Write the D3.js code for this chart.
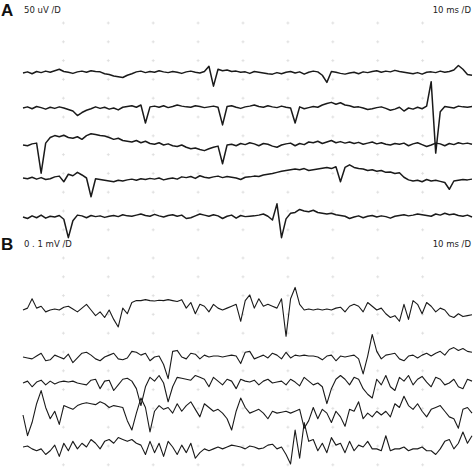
<!DOCTYPE html>
<html><head><meta charset="utf-8">
<script src="https://cdn.jsdelivr.net/npm/d3@7"></script>
<style>body{margin:0;background:#fff}</style></head>
<body><svg id="c" width="474" height="470"></svg>
<script>
// Panel A traces (uV), 1 sample per ms, 100 ms per sweep
const A1=[0,3,-2,4,1,5,2,6,10,4,2,-1,3,5,2,6,4,3,-2,-4,-8,-10,-12,-6,-2,3,5,1,4,2,6,3,1,4,2,-1,3,5,2,0,4,18,-35,10,6,8,4,5,2,3,-1,4,2,0,-2,-3,1,-2,2,4,0,3,-3,2,5,3,-6,-25,4,2,-1,-3,0,2,-2,3,1,4,6,2,5,3,7,4,2,0,-2,1,-3,2,3,1,5,2,4,8,20,10,-4,-6];
const A2=[0,3,-2,4,1,-3,2,-1,3,0,-4,-8,-20,-12,-6,-2,3,-1,2,-3,0,-5,2,4,6,2,8,-40,3,5,2,6,1,4,8,5,3,2,6,4,1,3,5,2,-45,4,6,2,-1,3,5,8,4,2,6,3,1,5,2,0,-40,3,-2,1,4,2,8,12,15,10,14,8,6,2,3,0,-4,-2,1,3,-1,-6,-3,2,-8,0,-3,2,-2,5,70,-120,-10,4,2,0,5,3,2,4];
const A3=[0,-2,3,5,-75,5,20,25,22,26,20,18,22,15,25,30,28,25,24,20,15,18,12,10,8,12,6,10,4,2,6,0,3,-2,-4,0,-6,-10,-8,-12,-15,-10,-6,-3,-50,0,2,-2,4,1,6,3,-2,4,2,-3,-6,0,3,5,-2,4,1,8,6,10,4,8,12,6,9,5,8,4,7,2,5,8,3,6,2,0,4,2,5,-2,3,6,1,-4,0,5,3,-2,4,1,6,3,5,2];
const A4=[0,-2,2,-3,1,-4,-2,3,5,-10,10,6,15,8,0,-50,-2,-4,-6,-8,-10,-6,-8,-5,-3,-6,-2,-4,-1,-3,0,-5,-2,0,-3,3,1,4,-1,6,2,0,3,5,1,4,2,0,-4,2,3,5,4,8,10,12,15,18,20,22,24,22,25,20,22,24,26,28,25,30,-10,28,35,28,25,24,20,22,18,20,15,16,12,14,2,-5,-8,-6,-10,-4,-8,-6,-9,-12,-30,-8,-6,-4,-5,-3];
const A5=[0,-4,3,-2,5,-3,2,0,4,-6,-55,-10,5,3,-2,4,1,3,-1,2,4,1,6,3,2,5,8,4,2,7,3,0,4,6,2,5,-4,-2,3,8,5,2,6,3,-4,2,5,-3,4,1,2,3,5,8,2,-8,35,-55,-5,10,12,20,16,14,18,12,10,8,10,6,4,2,-4,0,3,-2,2,4,0,3,1,-3,2,4,6,3,5,8,6,4,2,8,5,10,6,8,4,2,5,0];
// Panel B traces (uV)
const B1=[0,10,60,10,20,-10,0,5,0,15,20,5,-10,10,30,0,-30,-10,-40,0,-50,-90,10,-20,40,50,50,55,50,48,52,50,55,50,45,55,10,40,-20,30,20,-10,30,10,0,10,20,30,-60,50,80,10,60,20,30,20,10,60,-140,60,120,30,0,5,0,5,0,5,0,10,15,-10,20,30,20,-10,40,20,0,10,-20,-40,-30,-60,30,-50,50,30,-20,40,20,-10,10,0,-30,-40,-20,-35,-30,-25];
const B2=[0,-5,-10,5,20,-20,-15,10,0,-10,15,-30,-5,20,25,10,-10,-20,0,10,20,-10,-15,-5,30,25,10,20,-20,0,5,-40,-115,30,35,0,-10,20,15,-10,10,0,5,5,0,5,10,5,-35,25,30,-10,0,10,-5,20,10,-10,25,-5,10,5,10,5,5,0,-15,5,10,-20,5,0,5,10,-10,-90,5,120,30,-10,10,15,20,-10,-20,5,10,-5,10,20,5,20,30,10,40,50,35,45,30,25];
const B3=[0,10,-20,5,15,-10,10,-5,5,10,5,10,0,-5,-10,15,20,-30,10,15,-40,-10,20,25,10,-30,-120,-20,30,10,40,0,-100,-20,30,25,20,15,40,30,20,-20,30,10,-10,20,10,-30,20,10,5,15,-10,10,20,0,5,10,-10,20,5,-15,30,10,-10,0,-20,-110,-30,20,40,20,-10,30,20,-30,-60,-80,20,-10,40,-20,-40,30,10,40,-10,20,35,5,-20,30,20,-10,0,20,-20,-30,20,10];
const B4=[0,-110,-40,60,130,40,-20,20,-50,50,40,30,50,60,65,60,55,70,60,40,50,45,40,-30,-80,10,90,40,-90,20,50,30,40,10,60,20,50,70,30,-10,60,40,20,30,10,-20,-80,20,90,40,10,20,30,10,-20,20,10,15,20,10,20,30,-70,-30,40,-20,30,10,-40,20,-10,-60,30,20,70,-20,10,-10,20,0,20,-10,60,40,100,50,30,60,20,-10,30,40,50,20,-10,-20,-70,30,40,10];
const B5=[0,5,-10,-20,-10,-40,-20,10,-50,20,-20,30,-10,20,0,40,20,-10,30,40,20,50,40,30,40,20,10,-40,30,-30,20,-50,30,0,-40,10,-30,20,-60,-30,-10,-20,-10,0,-10,0,10,5,0,-10,5,0,-10,-5,10,15,-10,0,-40,-90,90,-60,130,30,40,-20,20,-30,50,10,20,-30,30,-20,10,0,30,-10,-10,-20,60,-20,-10,-10,0,-20,-10,-10,0,-20,-20,-40,-10,30,40,-10,20,80,20,60];
const panels=[
 {label:"A",gain:"50  uV /D",time:"10  ms /D",uvPerDiv:50,titleY:13,rows:[73,108,145,178,217],traces:[A1,A2,A3,A4,A5],gridTop:23,gridRows:12,sw:1.5},
 {label:"B",gain:"0 . 1  mV /D",time:"10  ms /D",uvPerDiv:100,titleY:247,rows:[310,357,383,415,447],traces:[B1,B2,B3,B4,B5],gridTop:258,gridRows:12,sw:1.1}
];
const gridMs=[9,19,29,39,49,59,69,79,89];
const svg=d3.select("#c");
const x=d3.scaleLinear().domain([0,100]).range([23,472]);
const div=18.8;
panels.forEach(p=>{
  const g=svg.append("g");
  for(let r=0;r<p.gridRows;r++){
    const yy=p.gridTop+r*div;
    gridMs.forEach(ms=>{
      const xx=x(ms);
      g.append("path").attr("d",`M${xx-1.5},${yy}H${xx+1.5}M${xx},${yy-1.5}V${yy+1.5}`).attr("stroke","#dcdcdc").attr("stroke-width",0.8);
    });
  }
  g.append("text").attr("x",1).attr("y",p.titleY+3).text(p.label).attr("font-family","Liberation Sans, Arial").attr("font-weight","bold").attr("font-size",17).attr("fill","#111");
  g.append("text").attr("x",24).attr("y",p.titleY).text(p.gain).attr("font-family","DejaVu Sans").attr("font-size",8.5).attr("fill","#222");
  g.append("text").attr("x",471).attr("y",p.titleY).attr("text-anchor","end").text(p.time).attr("font-family","DejaVu Sans").attr("font-size",8.5).attr("fill","#222");
  p.traces.forEach((tr,i)=>{
    const xs=d3.scaleLinear().domain([0,tr.length-1]).range([0,100]);
    const y=d3.scaleLinear().domain([0,p.uvPerDiv]).range([p.rows[i],p.rows[i]-div]);
    const line=d3.line().x((d,j)=>x(xs(j))).y(d=>y(d));
    g.append("path").datum(tr).attr("d",line).attr("fill","none").attr("stroke","#1a1a1a").attr("stroke-width",p.sw).attr("stroke-linejoin","round");
  });
});
</script></body></html>
